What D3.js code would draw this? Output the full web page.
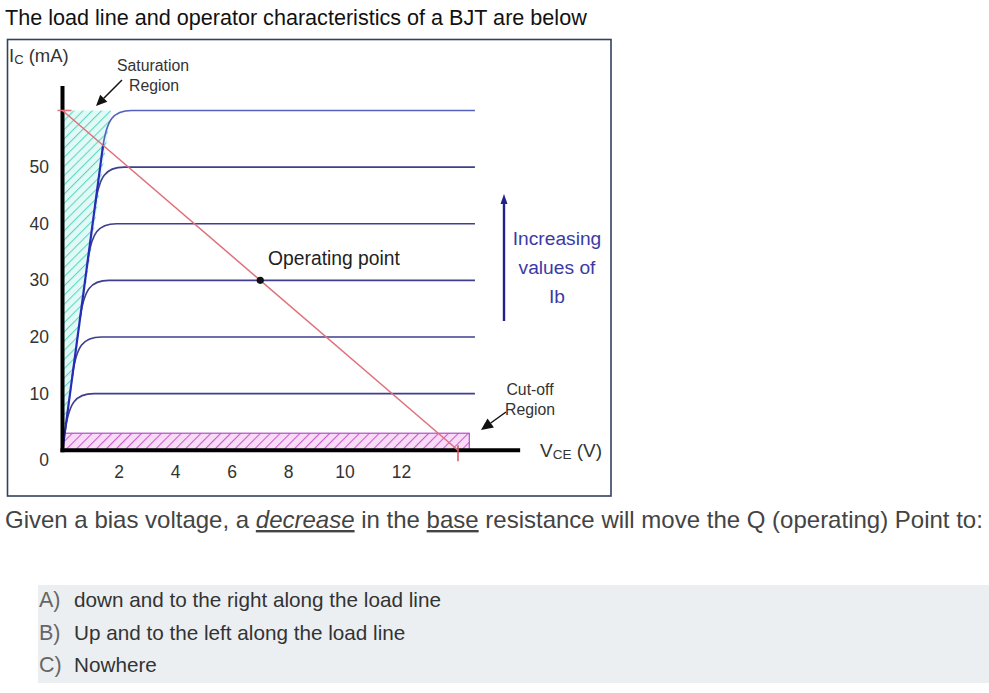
<!DOCTYPE html>
<html><head><meta charset="utf-8">
<script src="https://cdn.jsdelivr.net/npm/d3@7"></script>
<style>
body{margin:0;background:#fff;}
svg text{font-family:"Liberation Sans",Arial,sans-serif;}
</style></head>
<body>
<svg id="c" width="989" height="693"></svg>
<script>
// ---- data ----
const ibLevels = [10, 20, 30, 40, 50, 60];      // Ic flat levels (mA) for increasing Ib
const xTicks = [2, 4, 6, 8, 10, 12];             // VCE (V)
const yTicks = [0, 10, 20, 30, 40, 50];          // Ic (mA)
const loadLine = [[0, 60], [14, 0]];             // (VCE, Ic)
const qPoint = [7, 30];
const satVoltAt60 = 1.6;                         // saturation boundary VCE at 60 mA
const cutoffIc = 3;                              // cut-off band height (mA)
const cutoffEndV = 14.4;
const curveEndV = 14.6;
const axisEndV = 16.2;
const axisTopIc = 64.3;
const answers = ["down and to the right along the load line", "Up and to the left along the load line", "Nowhere"];
const answerLetters = ["A)", "B)", "C)"];

const svg = d3.select("#c");
const x = d3.scaleLinear().domain([0, 14]).range([62.5, 62.5 + 14 * 28.25]);
const y = d3.scaleLinear().domain([0, 60]).range([450.2, 450.2 - 60 * 5.6625]);
const k = satVoltAt60 / 60;

// defs: hatch patterns
const defs = svg.append("defs");
function hatch(id, bg, fg, sp) {
  const p = defs.append("pattern").attr("id", id).attr("patternUnits", "userSpaceOnUse")
    .attr("width", sp).attr("height", sp).attr("patternTransform", "rotate(45)");
  p.append("rect").attr("width", sp).attr("height", sp).attr("fill", bg);
  p.append("line").attr("x1", 0).attr("y1", 0).attr("x2", 0).attr("y2", sp)
    .attr("stroke", fg).attr("stroke-width", 2.2);
}
hatch("cyanH", "#e2faf6", "#5fd6c6", 6.5);
hatch("pinkH", "#f8dcf6", "#c85cd0", 7);

// title
svg.append("text").attr("x", 5).attr("y", 25).attr("font-size", 21.6).attr("fill", "#111")
  .text("The load line and operator characteristics of a BJT are below");

// frame
svg.append("rect").attr("x", 7.5).attr("y", 39.5).attr("width", 603.5).attr("height", 456.5)
  .attr("fill", "#fff").attr("stroke", "#34425e").attr("stroke-width", 1.6);

// saturation hatched area
const satPoly = [[0, 0], [0, 60], [k * 60 + 0.12, 60], [0, 0]];
svg.append("path").attr("d", d3.line().x(d => x(d[0])).y(d => y(d[1]))(satPoly) + "Z")
  .attr("fill", "url(#cyanH)");

// cutoff hatched band
svg.append("rect").attr("x", x(0)).attr("y", y(cutoffIc)).attr("width", x(cutoffEndV) - x(0))
  .attr("height", y(0) - y(cutoffIc)).attr("fill", "url(#pinkH)").attr("stroke", "#b050c8").attr("stroke-width", 1.2);

// characteristic curves
const curveColor = "#3f3f8e";
ibLevels.forEach((I, i) => {
  const s = Math.max(I - 7, 1.5);
  const p = d3.path();
  p.moveTo(x(k * s), y(s));
  p.bezierCurveTo(x(k * (I - 1.5)), y(I - 1.5), x(k * I + 0.2), y(I), x(k * I + 0.85), y(I));
  p.lineTo(x(curveEndV), y(I));
  svg.append("path").attr("d", p.toString()).attr("fill", "none")
    .attr("stroke", i === ibLevels.length - 1 ? "#5560bd" : curveColor).attr("stroke-width", 1.6);
});
// saturation boundary line
svg.append("line").attr("x1", x(0)).attr("y1", y(0)).attr("x2", x(k * 54)).attr("y2", y(54))
  .attr("stroke", "#2a2ab8").attr("stroke-width", 2.2);

// axes
svg.append("line").attr("x1", x(0)).attr("y1", y(axisTopIc)).attr("x2", x(0)).attr("y2", y(0) + 2)
  .attr("stroke", "#000").attr("stroke-width", 4);
svg.append("line").attr("x1", x(0) - 2).attr("y1", y(0)).attr("x2", x(axisEndV)).attr("y2", y(0))
  .attr("stroke", "#000").attr("stroke-width", 4);

// load line
svg.append("line").attr("x1", x(loadLine[0][0])).attr("y1", y(loadLine[0][1]))
  .attr("x2", x(loadLine[1][0])).attr("y2", y(loadLine[1][1]))
  .attr("stroke", "#e0707a").attr("stroke-width", 1.5);
svg.append("line").attr("x1", x(0) - 5).attr("y1", y(60)).attr("x2", x(0) + 9).attr("y2", y(60))
  .attr("stroke", "#e0707a").attr("stroke-width", 1.5);
svg.append("line").attr("x1", x(14)).attr("y1", y(0) - 5).attr("x2", x(14)).attr("y2", y(0) + 11)
  .attr("stroke", "#d8505e").attr("stroke-width", 1.5);

// Q point
svg.append("circle").attr("cx", x(qPoint[0])).attr("cy", y(qPoint[1])).attr("r", 3.6).attr("fill", "#111");
svg.append("text").attr("x", 334).attr("y", 265).attr("text-anchor", "middle").attr("font-size", 19.3)
  .attr("fill", "#222").text("Operating point");

// tick labels
svg.selectAll(".yt").data(yTicks).join("text").attr("class", "yt")
  .attr("x", 49).attr("y", d => d === 0 ? y(d) + 16 : y(d) + 6)
  .attr("text-anchor", "end").attr("font-size", 17.5).attr("fill", "#333").text(d => d);
svg.selectAll(".xt").data(xTicks).join("text").attr("class", "xt")
  .attr("x", d => x(d)).attr("y", 478).attr("text-anchor", "middle")
  .attr("font-size", 17.5).attr("fill", "#333").text(d => d);

// axis titles
const ic = svg.append("text").attr("x", 9).attr("y", 62).attr("font-size", 18.5).attr("fill", "#333");
ic.append("tspan").text("I");
ic.append("tspan").attr("font-size", 13).attr("dy", 2).text("C");
ic.append("tspan").attr("dy", -2).text(" (mA)");
const vce = svg.append("text").attr("x", 540).attr("y", 457).attr("font-size", 19).attr("fill", "#333");
vce.append("tspan").text("V");
vce.append("tspan").attr("font-size", 13.5).attr("dy", 2).text("CE");
vce.append("tspan").attr("dy", -2).text(" (V)");

// annotations
function arrow(x1, y1, x2, y2, color, hl, hw, sw) {
  const a = Math.atan2(y2 - y1, x2 - x1);
  const bx = x2 - hl * Math.cos(a), by = y2 - hl * Math.sin(a);
  svg.append("line").attr("x1", x1).attr("y1", y1).attr("x2", bx).attr("y2", by)
    .attr("stroke", color).attr("stroke-width", sw);
  const px = -Math.sin(a) * hw, py = Math.cos(a) * hw;
  svg.append("path").attr("d", `M${x2},${y2}L${bx + px},${by + py}L${bx - px},${by - py}Z`).attr("fill", color);
}
svg.append("text").attr("x", 153).attr("y", 71).attr("text-anchor", "middle").attr("font-size", 15.8)
  .attr("fill", "#333").text("Saturation");
svg.append("text").attr("x", 154).attr("y", 91).attr("text-anchor", "middle").attr("font-size", 15.8)
  .attr("fill", "#333").text("Region");
arrow(122, 80, 96, 106, "#111", 11, 5, 1.5);

svg.append("text").attr("x", 530).attr("y", 395).attr("text-anchor", "middle").attr("font-size", 15.8)
  .attr("fill", "#333").text("Cut-off");
svg.append("text").attr("x", 530).attr("y", 415).attr("text-anchor", "middle").attr("font-size", 15.8)
  .attr("fill", "#333").text("Region");
arrow(506, 412, 481, 430, "#111", 12, 5.5, 1.5);

arrow(504, 321, 504, 194, "#22228a", 10, 3.5, 2.4);
["Increasing", "values of", "Ib"].forEach((t, i) => {
  svg.append("text").attr("x", 557).attr("y", 245 + i * 29).attr("text-anchor", "middle")
    .attr("font-size", 19.2).attr("fill", "#3a3aa6").text(t);
});

// question
const q = svg.append("text").attr("x", 5).attr("y", 528).attr("font-size", 24).attr("fill", "#444");
q.append("tspan").text("Given a bias voltage, a ");
q.append("tspan").attr("font-style", "italic").attr("text-decoration", "underline").text("decrease");
q.append("tspan").text(" in the ");
q.append("tspan").attr("text-decoration", "underline").text("base");
q.append("tspan").text(" resistance will move the Q (operating) Point to:");

// answers box
svg.append("rect").attr("x", 38).attr("y", 585).attr("width", 951).attr("height", 98).attr("fill", "#ebeff2");
answers.forEach((t, i) => {
  svg.append("text").attr("x", 39).attr("y", 607 + i * 32.5).attr("font-size", 21.5).attr("fill", "#666").text(answerLetters[i]);
  svg.append("text").attr("x", 74).attr("y", 607 + i * 32.5).attr("font-size", 20.7).attr("fill", "#333").text(t);
});
</script>
</body></html>
